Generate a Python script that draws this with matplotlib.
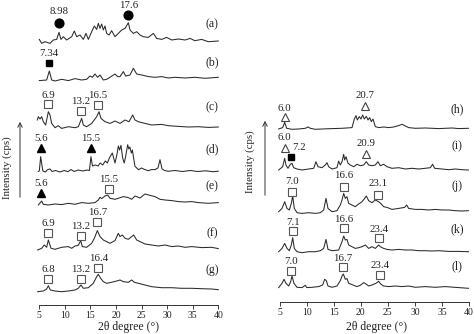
import numpy as np
import matplotlib
matplotlib.use("Agg")
import matplotlib.pyplot as plt
from matplotlib.patches import FancyArrowPatch

plt.rcParams['font.family'] = ['Liberation Serif', 'DejaVu Serif']

# ---- XRD traces (2theta, intensity in px above own baseline) ----
x_a = [5.0, 5.46, 6.11, 7.09, 7.74, 8.40, 8.85, 9.24, 9.70, 10.35, 11.33, 11.85, 12.31, 12.96, 13.61, 14.13, 14.59, 15.24, 15.76, 16.22, 16.54, 16.87, 17.20, 17.52, 17.85, 18.17, 18.63, 19.15, 19.80, 20.45, 21.11, 21.76, 22.41, 22.74, 23.39, 24.04, 24.69, 25.34, 26.32, 27.30, 27.95, 28.93, 29.9, 30.9, 32.2, 33.5, 34.5, 35.4, 36.75, 38.05, 40.0]
y_a = [2.3, -1.7, 0, -1.7, 1.7, 2.3, 9.3, 2.3, 5, 1.7, 5, 10.7, 5, 6.7, 2.3, 8.3, 2.3, 10, 15.7, 12.3, 18.3, 13.3, 17.7, 11.7, 15.7, 8.3, 6.7, 11, 5, 8.3, 11.7, 13.3, 19, 11.7, 8.3, 10, 6.7, 5, 4.3, 8.3, 3.3, 2.3, 4.3, 1.7, 2.7, 1.7, 3.3, 1, 2.3, 0, 0.7]

x_b = [5.0, 6.44, 6.96, 7.42, 8.07, 9.37, 10.68, 11.98, 13.28, 14.26, 14.91, 15.37, 15.89, 16.41, 16.87, 17.52, 18.17, 18.82, 19.80, 20.32, 20.78, 21.43, 21.89, 22.74, 23.39, 24.04, 25.02, 26.32, 27.62, 28.93, 30.23, 31.5, 33.5, 35.4, 37.4, 40.0]
y_b = [-2.3, -1.7, 7.3, -1.7, -2.7, -1, -2.3, -0.3, -1.7, -1, 2.3, 1, 4.3, 1, 3.3, -1.7, -1, 1, 4.3, 1.7, 1.7, 6.7, 2.3, 3.3, 10, 4.3, 3.3, 1.7, 1, 1.7, 0.3, 1, 0.3, 1, 0, 1]

x_c = [4.6, 4.81, 5.14, 5.46, 5.79, 6.24, 6.77, 7.09, 7.42, 8.07, 8.72, 9.37, 10.68, 11.98, 12.63, 13.28, 13.61, 14.26, 15.24, 16.22, 16.67, 17.06, 17.85, 18.82, 19.80, 20.78, 21.76, 22.54, 23.26, 23.71, 24.36, 25.67, 26.97, 28.93, 30.23, 32.2, 34.1, 36.1, 38.05, 40.0]
y_c = [7.7, 11, 8.7, 11, 6, 2.7, 16, 12.7, 4.3, 0, 2, -0.7, 1, 0, 1, 9.3, 2.7, 1, 4.3, 11, 16, 9.3, 6, 4.3, 6.7, 4.3, 7.7, 6, 12.7, 7.7, 6, 4.3, 2.7, 3.3, 2, 1.3, 0.7, 1, 0.3, 0.7]

x_d = [4.8, 5.0, 5.27, 5.45, 5.7, 6.2, 6.6, 7.1, 7.5, 8.2, 9.0, 9.9, 10.6, 11.2, 11.8, 12.6, 13.5, 14.3, 14.8, 15.1, 15.4, 15.9, 16.5, 16.9, 17.4, 17.9, 18.3, 18.7, 19.28, 19.8, 20.2, 20.45, 20.7, 20.97, 21.3, 21.6, 21.9, 22.28, 22.5, 22.7, 23.0, 23.2, 23.5, 23.7, 24.4, 25.0, 25.6, 26.3, 27.0, 27.6, 28.2, 28.6, 29.0, 29.5, 30.2, 31.5, 33.0, 34.5, 36.0, 37.5, 39.0, 40.0]
y_d = [0.5, 1, 15.3, 9, 1, 0, 2.3, 3, 0.5, 1.5, 0, 1.5, 0.3, 2.5, 0.5, 2, 1, 2, 1.5, 15.3, 6, 7, 6, 9, 7, 11, 9, 14, 19, 9, 18, 26, 22, 26.7, 14, 9, 16, 27.3, 23, 25, 19, 22, 12, 5.7, 2.3, 4, 2.5, 1.3, 2.5, 2.3, 4, 12.3, 3, 1.5, 0.7, 1.5, 0.5, 1.5, 0.5, 1.2, 0.3, 0.8]

x_e = [4.81, 5.46, 5.79, 6.77, 8.07, 9.37, 10.68, 11.98, 13.28, 14.59, 15.89, 16.54, 16.87, 17.2, 17.85, 18.37, 18.82, 19.8, 20.45, 21.43, 22.41, 23.06, 23.71, 24.69, 25.67, 26.6, 27.6, 28.6, 29.6, 30.9, 32.2, 33.5, 34.8, 36.1, 38.05, 40.0]
y_e = [-1.7, 2.3, -1, -1.7, -0.7, -1.3, 0, -1, 0.7, 0, 0.7, 3.3, 6, 4.7, 7.3, 8.3, 5, 4, 5, 6.7, 5.7, 4, 7.3, 5.3, 9.3, 8, 6.7, 4, 3.3, 2.7, 1.7, 1.3, 1.7, 0.7, 0, 0.7]

x_f = [4.68, 5.46, 5.98, 6.44, 6.77, 7.29, 8.07, 9.37, 10.68, 11.33, 11.98, 12.63, 13.09, 13.41, 14.26, 15.24, 15.76, 16.35, 16.87, 17.52, 18.17, 18.82, 19.80, 20.45, 20.78, 21.24, 21.76, 22.41, 23.06, 23.45, 24.04, 24.69, 25.67, 26.97, 28.28, 29.6, 30.9, 32.2, 33.5, 34.8, 36.75, 38.7, 40.0]
y_f = [-1.7, 0, 3.3, 1, 8.3, 0, -1, 1, 1.7, 0, 2.3, 3, 7.7, 1.7, 1, 5, 10, 17.7, 11.7, 8.3, 6.7, 5, 7.7, 15, 11.7, 13.3, 10, 9, 11.7, 13.3, 8.3, 6.7, 4.3, 3.3, 2.3, 3.3, 1.7, 2.3, 1, 1.7, 0.7, 1, -0.3]

x_g = [4.68, 5.79, 6.44, 6.77, 7.16, 8.07, 9.37, 10.68, 11.98, 12.63, 13.15, 13.61, 14.59, 15.56, 16.22, 16.54, 17.0, 17.52, 18.17, 19.15, 20.13, 20.78, 21.43, 22.41, 23.06, 23.58, 24.36, 25.67, 26.97, 28.93, 30.9, 32.8, 34.8, 36.75, 38.7, 40.0]
y_g = [-2.7, -2, 0, 3.3, -1, -2, -2.7, -2, -1, 0.7, 4, 0.7, 1.3, 5.7, 12.3, 14.7, 10.7, 7.3, 5.7, 6.7, 8, 9, 7.3, 6.7, 9, 6.7, 5.7, 4, 2.3, 1.3, 1.3, 0.7, 0.7, 0.3, 0, -0.7]

x_h = [4.81, 5.55, 5.92, 6.29, 7.27, 8.51, 9.74, 10.23, 10.66, 11.59, 12.82, 14.67, 16.52, 18.37, 18.8, 19.11, 19.35, 19.72, 20.03, 20.34, 20.65, 21.02, 21.33, 21.63, 21.94, 22.25, 22.68, 23.3, 24.22, 25.15, 26.07, 27.0, 27.61, 28.1, 28.84, 30.08, 31.9, 33.2, 34.4, 35.6, 36.9, 38.1, 39.9]
y_h = [-0.7, 0.7, 6, 0, -1, -0.7, 0, 1.3, 0, -1, -0.7, -0.3, 0, 0.7, 9.3, 12.7, 8.3, 11.7, 9.3, 13.3, 9.3, 12, 8.3, 10.7, 6.7, 9.3, 1.7, 0.7, 1.3, 0.7, 1.3, 2.7, 4, 2.7, 0.7, 0, 0.3, 0, -0.3, 0, 0.3, -0.3, 0]

x_i = [4.81, 5.55, 5.92, 6.16, 6.53, 6.97, 7.27, 7.58, 8.2, 9.12, 10.35, 11.28, 11.71, 12.08, 12.82, 13.44, 13.74, 14.05, 14.67, 15.59, 15.9, 16.21, 16.52, 16.83, 17.01, 17.26, 17.63, 18.06, 18.68, 19.29, 19.91, 20.52, 21.02, 21.45, 22.06, 22.68, 23.17, 23.6, 24.22, 24.84, 25.76, 27.0, 28.23, 29.46, 30.7, 31.9, 32.85, 33.28, 33.65, 35.0, 36.24, 37.5, 38.7, 39.9]
y_i = [0, 3.3, 11.7, 5, 1.7, 5.7, 6.7, 2.3, 1, 0, 1, 1.7, 8.3, 3.3, 2.3, 5, 7.3, 3.3, 1, 2.3, 9, 5, 8.3, 15.7, 10, 13.3, 6.7, 5, 3.3, 5.7, 4.3, 5, 8.3, 5, 4.3, 5, 8.3, 4.3, 5.7, 3.3, 1.7, 2.3, 1, 1.7, 1, 1.7, 2.3, 5.7, 1.7, 1, 0.3, 1, 0.3, 0]

x_j = [4.81, 5.43, 5.92, 6.35, 6.78, 7.15, 7.4, 7.7, 8.2, 9.12, 10.35, 11.59, 12.51, 13.13, 13.56, 13.93, 14.67, 15.59, 16.21, 16.52, 16.83, 17.13, 17.44, 17.75, 18.37, 18.98, 19.6, 20.22, 20.71, 21.02, 21.45, 22.06, 22.68, 23.3, 23.79, 24.22, 24.84, 25.76, 27.0, 28.1, 28.47, 28.84, 30.08, 31.3, 32.5, 33.77, 35.0, 36.24, 37.5, 38.7, 39.9]
y_j = [0, 3.3, 10, 3.3, 1.7, 8.3, 15.7, 3.3, -1, -1.7, -1, -1.7, -1, 1.7, 13.3, 3.3, 0, 1, 6.7, 11.7, 18.3, 13.3, 15, 8.3, 6.7, 5, 7.7, 10, 13.3, 15.7, 11, 9, 11.7, 10, 7.7, 5, 4.3, 2.3, 3.3, 4.3, 6.7, 3.3, 2.3, 2.3, 1.7, 2.3, 1.7, 1.7, 1, 0.7, 1]

x_k = [4.81, 5.43, 5.92, 6.35, 6.78, 7.15, 7.4, 7.7, 8.2, 9.12, 10.35, 11.59, 12.51, 13.13, 13.56, 13.93, 14.67, 15.9, 16.52, 16.83, 17.13, 17.44, 17.75, 18.37, 18.98, 19.6, 20.22, 20.83, 21.45, 22.06, 22.68, 23.3, 23.6, 24.22, 24.84, 25.76, 27.0, 28.23, 29.46, 30.7, 31.9, 33.2, 34.4, 36.24, 38.1, 39.9]
y_k = [0, 3.3, 8.3, 3.3, 1, 6.7, 14, 3.3, 0, -1, 0, 0, 1, 3.3, 12.3, 2.3, 1, 1.7, 10, 15.7, 11.7, 12.3, 6.7, 5, 3.3, 4, 5, 6.7, 3.3, 5, 3.3, 6.7, 5, 3.3, 2.3, 1.7, 2.3, 1.7, 1.7, 1, 1, 0.7, 1, 0.3, 0.3, 0]

x_l = [4.81, 5.43, 5.8, 6.16, 6.66, 7.03, 7.27, 7.64, 8.2, 9.12, 9.74, 9.99, 10.97, 12.2, 12.94, 13.31, 13.62, 13.93, 14.67, 15.59, 16.21, 16.52, 16.77, 17.13, 17.44, 17.75, 18.68, 19.29, 19.91, 20.52, 20.96, 21.45, 22.06, 22.8, 23.3, 23.67, 24.22, 25.15, 26.38, 27.61, 28.84, 30.08, 31.9, 33.77, 35.6, 38.1, 39.9]
y_l = [0.7, 5, 9, 5, 2.3, 6.7, 12.3, 5, 1, 0.7, 3, 0.7, 1, 1.7, 3.3, 9, 7.7, 2.3, 1, 2.3, 7.7, 12.3, 14.3, 9, 9.7, 5, 3, 1.7, 3, 5.7, 4.3, 2.3, 3.3, 5, 7, 4.3, 2.3, 1.7, 2.3, 1.7, 2.3, 1, 1.7, 1, 1.7, 0.7, 0]

panel_names_left = ['(a)', '(b)', '(c)', '(d)', '(e)', '(f)', '(g)']
panel_names_right = ['(h)', '(i)', '(j)', '(k)', '(l)']

# peak marks: (2theta of mark, marker kind, label text)
peaks_a = [(8.85, 'circle', '8.98'), (22.4, 'circle', '17.6')]
peaks_b = [(6.96, 'fsquare', '7.34')]
peaks_c = [(6.77, 'osquare', '6.9'), (13.09, 'osquare', '13.2'), (16.4, 'osquare', '16.5')]
peaks_d = [(5.33, 'ftri', '5.6'), (15.1, 'ftri', '15.5')]
peaks_e = [(5.33, 'ftri', '5.6'), (18.63, 'osquare', '15.5')]
peaks_f = [(6.77, 'osquare', '6.9'), (13.09, 'osquare', '13.2'), (16.35, 'osquare', '16.7')]
peaks_g = [(6.77, 'osquare', '6.8'), (13.15, 'osquare', '13.2'), (16.54, 'osquare', '16.4')]
peaks_h = [(5.92, 'otri', '6.0'), (20.71, 'otri', '20.7')]
peaks_i = [(5.92, 'otri', '6.0'), (7.09, 'fsquare', '7.2'), (21.0, 'otri', '20.9')]
peaks_j = [(7.27, 'osquare', '7.0'), (16.83, 'osquare', '16.6'), (23.17, 'osquare', '23.1')]
peaks_k = [(7.4, 'osquare', '7.1'), (16.83, 'osquare', '16.6'), (23.4, 'osquare', '23.4')]
peaks_l = [(7.09, 'osquare', '7.0'), (16.64, 'osquare', '16.7'), (23.6, 'osquare', '23.4')]

ticks = [5, 10, 15, 20, 25, 30, 35, 40]

# ---- layout (pixel rows from top of figure) ----
W, H = 474, 334
styles = {
    'circle': dict(marker='o', ms=6.3, mfc='black', mec='black'),
    'fsquare': dict(marker='s', ms=4.6, mfc='black', mec='black'),
    'osquare': dict(marker='s', ms=5.3, mfc='white', mec='#555555', mew=0.8),
    'ftri': dict(marker='^', ms=5.6, mfc='black', mec='black'),
    'otri': dict(marker='^', ms=6.2, mfc='white', mec='#444444', mew=0.8),
}
ink = '#2a2a2a'

fig = plt.figure(figsize=(W / 100, H / 100), dpi=100)


def make_axes(x0, x1, axis_row):
    ax = fig.add_axes([x0 / W, 1 - axis_row / H, (x1 - x0) / W, axis_row / H])
    ax.set_xlim(5, 40)
    ax.set_ylim(axis_row, 0)
    for s in ['top', 'left', 'right']:
        ax.spines[s].set_visible(False)
    ax.spines['bottom'].set_linewidth(0.7)
    ax.spines['bottom'].set_color('#333333')
    ax.set_yticks([])
    ax.set_xticks(ticks)
    ax.tick_params(axis='x', direction='out', length=3, width=0.6, labelsize=7,
                   pad=1.5, colors='#222222')
    ax.patch.set_alpha(0)
    return ax


def draw_trace(ax, x, y, base, label, label_x, label_row):
    ax.plot(x, base - np.array(y), color=ink, lw=0.75, clip_on=False)
    ax.text(label_x, label_row, label, fontsize=8.5, ha='center', va='center', color='#222222')


def draw_marks(ax, peaks, rows, text_rows, text_x=None):
    for n, (pos, kind, txt) in enumerate(peaks):
        ax.plot([pos], [rows[n]], linestyle='none', clip_on=False, **styles[kind])
        tx = pos if text_x is None or text_x[n] is None else text_x[n]
        ax.text(tx, text_rows[n], txt, fontsize=7.8, ha='center', va='center', color='#222222')


# left panel
axL = make_axes(39.3, 218.3, 305)
left_traces = [(x_a, y_a, 41.7, 24), (x_b, y_b, 78.3, 62.3), (x_c, y_c, 127.7, 107.5),
               (x_d, y_d, 172, 149.3), (x_e, y_e, 203.3, 186), (x_f, y_f, 248.3, 233.3),
               (x_g, y_g, 289, 270)]
for (x, y, base, lrow), name in zip(left_traces, panel_names_left):
    draw_trace(axL, x, y, base, name, 38.8, lrow)

draw_marks(axL, peaks_a, [22.7, 15], [11.5, 5])
draw_marks(axL, peaks_b, [62.7], [53.3])
draw_marks(axL, peaks_c, [104, 110.7, 105], [95, 101.7, 95])
draw_marks(axL, peaks_d, [148.3, 148.3], [138.3, 138.3])
draw_marks(axL, peaks_e, [193.3, 189.3], [183.3, 179.3])
draw_marks(axL, peaks_f, [233.3, 236, 221.7], [223.3, 226.7, 212.7])
draw_marks(axL, peaks_g, [279, 279, 267.7], [269, 269, 258.3])

# right panel
axR = make_axes(279.7, 469, 302)
right_traces = [(x_h, y_h, 128.3, 109.3), (x_i, y_i, 170, 146.7), (x_j, y_j, 211.7, 186),
                (x_k, y_k, 251.7, 229.3), (x_l, y_l, 288.3, 266)]
for (x, y, base, lrow), name in zip(right_traces, panel_names_right):
    draw_trace(axR, x, y, base, name, 37.8, lrow)

draw_marks(axR, peaks_h, [116.7, 106], [108.3, 95.5])
draw_marks(axR, peaks_i, [147.7, 156.7, 154.3], [137.7, 147.7, 143.3], [None, 8.6, None])
draw_marks(axR, peaks_j, [191.7, 186.7, 195], [181.7, 176, 184])
draw_marks(axR, peaks_k, [231, 228.3, 238.3], [222.3, 220, 229])
draw_marks(axR, peaks_l, [270.7, 267.3, 275], [261.7, 258.3, 266])

# axis titles and intensity arrows
for cx in [128.8, 377]:
    fig.text(cx / W, 1 - 327 / H, '2θ degree (°)', fontsize=8.5, ha='center', va='center',
             color='#222222')

for ax_x, y0, y1, tx, ty in [(20, 200, 119, 7, 168), (265, 198, 118, 250, 162)]:
    arr = FancyArrowPatch((ax_x / W, 1 - y0 / H), (ax_x / W, 1 - y1 / H),
                          transform=fig.transFigure, arrowstyle='->', mutation_scale=8,
                          lw=0.7, color='#333333')
    fig.add_artist(arr)
    fig.text(tx / W, 1 - ty / H, 'Intensity (cps)', fontsize=7.8, rotation=90,
             ha='center', va='center', color='#222222')

fig.savefig('out.png', dpi=100)
